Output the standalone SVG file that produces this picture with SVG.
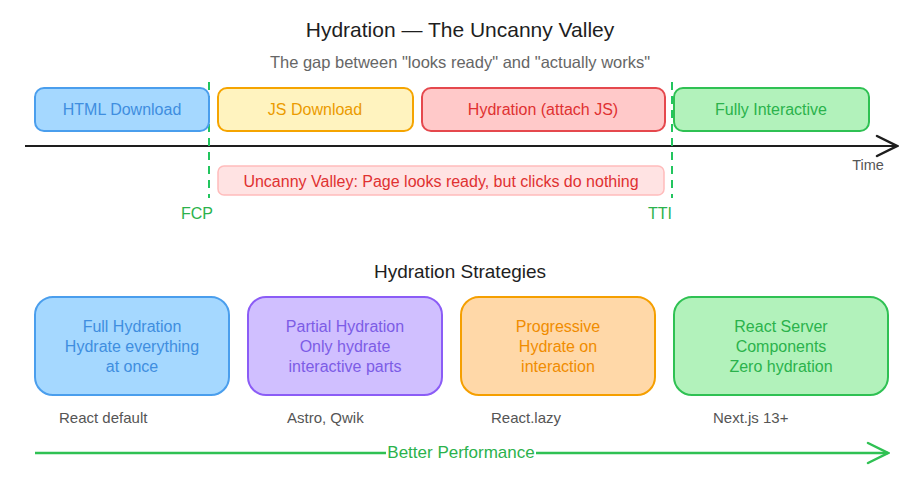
<svg xmlns="http://www.w3.org/2000/svg" width="920" height="480" viewBox="0 0 920 480">
<style>
text{font-family:"Liberation Sans","Noto Sans",sans-serif;text-anchor:middle;dominant-baseline:central}
.box{stroke-width:2}
.blue{fill:#a5d8ff;stroke:#4a9eed}
.yellow{fill:#fff3bf;stroke:#f5a400}
.red{fill:#ffc9c9;stroke:#e5484d}
.green{fill:#b2f2bb;stroke:#2fc153}
.purple{fill:#d0bfff;stroke:#8b5cf6}
.orange{fill:#ffd8a8;stroke:#f59f00}
.tb{fill:#3f8ee0}.ty{fill:#eb9b00}.tr{fill:#e03131}.tg{fill:#2bb24c}.tp{fill:#7c5ce6}.to{fill:#f08c00}
.lbl{font-size:16px}
.note{font-size:15px;fill:#555;text-anchor:start}
.dash{stroke:#22c55e;stroke-width:2;stroke-dasharray:8 6;fill:none}
</style>
<defs>
<marker id="ahk" markerWidth="24" markerHeight="24" refX="22" refY="12" orient="auto" markerUnits="userSpaceOnUse">
<path d="M2 2 L22 12 L2 22" fill="none" stroke="#1e1e1e" stroke-width="2.5" stroke-linecap="round"/>
</marker>
<marker id="ahg" markerWidth="24" markerHeight="24" refX="22" refY="12" orient="auto" markerUnits="userSpaceOnUse">
<path d="M2 2 L22 12 L2 22" fill="none" stroke="#2fc153" stroke-width="2.5" stroke-linecap="round"/>
</marker>
</defs>
<rect width="920" height="480" fill="#fff"/>

<g id="title">
<text x="460" y="29" font-size="21" fill="#1e1e1e">Hydration — The Uncanny Valley</text>
<text x="460" y="62" font-size="16.5" fill="#666">The gap between "looks ready" and "actually works"</text>
</g>

<g id="connectors">
<line x1="25" y1="146" x2="897" y2="146" stroke="#1e1e1e" stroke-width="2" marker-end="url(#ahk)"/>
<line class="dash" x1="209" y1="82" x2="209" y2="198"/>
<line class="dash" x1="672" y1="82" x2="672" y2="198"/>
<line x1="35" y1="453" x2="386" y2="453" stroke="#2fc153" stroke-width="2.5"/>
<line x1="536" y1="453" x2="888" y2="453" stroke="#2fc153" stroke-width="2.5" marker-end="url(#ahg)"/>
</g>

<g id="time-label"><text x="868" y="165" font-size="14.5" fill="#555">Time</text></g>

<g id="html-download">
<rect class="box blue" x="35" y="88" width="174" height="43" rx="9"/>
<text class="lbl tb" x="122" y="109">HTML Download</text>
</g>
<g id="js-download">
<rect class="box yellow" x="218" y="88" width="195" height="43" rx="9"/>
<text class="lbl ty" x="315" y="109">JS Download</text>
</g>
<g id="hydration">
<rect class="box red" x="422" y="88" width="243" height="43" rx="9"/>
<text class="lbl tr" x="543" y="109">Hydration (attach JS)</text>
</g>
<g id="fully-interactive">
<rect class="box green" x="674" y="88" width="195" height="43" rx="9"/>
<text class="lbl tg" x="771" y="109">Fully Interactive</text>
</g>

<g id="uncanny-valley">
<rect x="218" y="166" width="446" height="29" rx="6" fill="#ffe3e3" stroke="#ffbcbc" stroke-width="1.5"/>
<text class="lbl tr" x="441" y="181">Uncanny Valley: Page looks ready, but clicks do nothing</text>
</g>

<g id="fcp"><text x="197" y="213" font-size="16" class="tg">FCP</text></g>
<g id="tti"><text x="660" y="213" font-size="16" class="tg">TTI</text></g>

<g id="strategies-title"><text x="460" y="271" font-size="19" fill="#1e1e1e">Hydration Strategies</text></g>

<g id="full-hydration">
<rect class="box blue" x="35" y="297" width="194" height="98" rx="18"/>
<text class="lbl tb" x="132" y="326">Full Hydration</text>
<text class="lbl tb" x="132" y="346">Hydrate everything</text>
<text class="lbl tb" x="132" y="366">at once</text>
<text class="note" x="59" y="417">React default</text>
</g>
<g id="partial-hydration">
<rect class="box purple" x="248" y="297" width="194" height="98" rx="18"/>
<text class="lbl tp" x="345" y="326">Partial Hydration</text>
<text class="lbl tp" x="345" y="346">Only hydrate</text>
<text class="lbl tp" x="345" y="366">interactive parts</text>
<text class="note" x="287" y="417">Astro, Qwik</text>
</g>
<g id="progressive-hydration">
<rect class="box orange" x="461" y="297" width="194" height="98" rx="18"/>
<text class="lbl to" x="558" y="326">Progressive</text>
<text class="lbl to" x="558" y="346">Hydrate on</text>
<text class="lbl to" x="558" y="366">interaction</text>
<text class="note" x="491" y="417">React.lazy</text>
</g>
<g id="rsc">
<rect class="box green" x="674" y="297" width="214" height="98" rx="18"/>
<text class="lbl tg" x="781" y="326">React Server</text>
<text class="lbl tg" x="781" y="346">Components</text>
<text class="lbl tg" x="781" y="366">Zero hydration</text>
<text class="note" x="713" y="417">Next.js 13+</text>
</g>

<g id="better-performance"><text x="461" y="452" font-size="17" class="tg">Better Performance</text></g>
</svg>
